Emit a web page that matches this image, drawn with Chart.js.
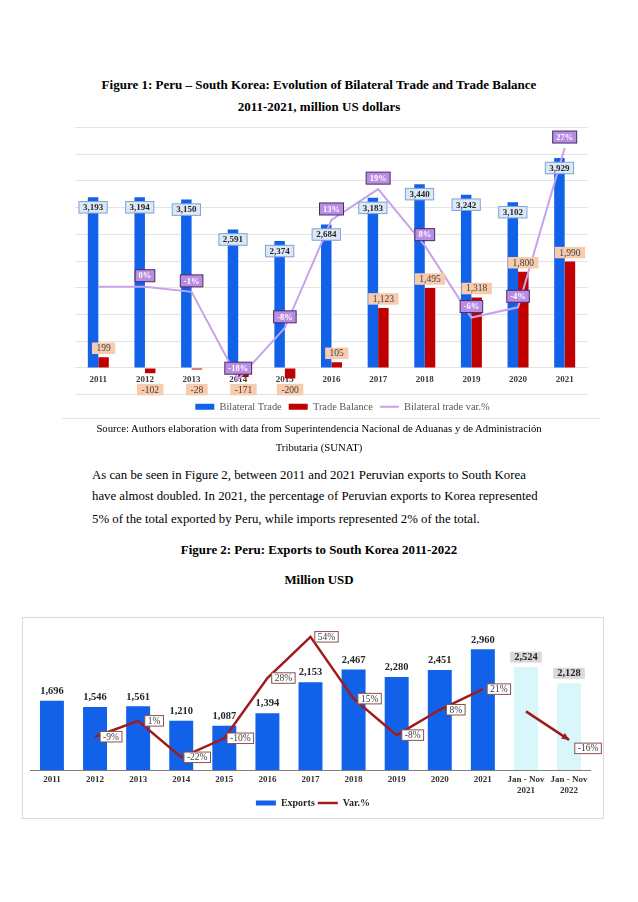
<!DOCTYPE html>
<html>
<head>
<meta charset="utf-8">
<script src="https://cdn.jsdelivr.net/npm/chart.js@4.4.1/dist/chart.umd.min.js"></script>
<style>
  body { margin: 0; background: #fff; }
  #page { position: relative; width: 638px; height: 902px; overflow: hidden;
          font-family: 'Liberation Serif', 'Times New Roman', serif; color: #000; }
  .t { position: absolute; left: 0; width: 638px; text-align: center; white-space: nowrap; line-height: 1; }
  .b { font-weight: bold; }
  .p { position: absolute; left: 92px; white-space: nowrap; line-height: 1; font-size: 12.8px; }
  #c1 { position: absolute; left: 60px; top: 116px; }
  #rule1 { position: absolute; left: 62px; top: 418px; width: 538px; height: 1px; background: #e3e3e3; }
  #box2 { position: absolute; left: 22px; top: 617px; width: 580px; height: 200px; border: 1px solid #dadada; }
  #box2 canvas { display: block; }
</style>
</head>
<body>
<div id="page">
  <div class="t b" style="top:77.5px;font-size:13px">Figure 1: Peru – South Korea: Evolution of Bilateral Trade and Trade Balance</div>
  <div class="t b" style="top:99.5px;font-size:13px">2011-2021, million US dollars</div>

  <canvas id="c1" width="565" height="306"></canvas>
  <div id="rule1"></div>

  <div class="t" style="top:423px;font-size:10.7px">Source: Authors elaboration with data from Superintendencia Nacional de Aduanas y de Administración</div>
  <div class="t" style="top:441.5px;font-size:10.7px">Tributaria (SUNAT)</div>

  <div class="p" style="top:468.5px">As can be seen in Figure 2, between 2011 and 2021 Peruvian exports to South Korea</div>
  <div class="p" style="top:490.3px">have almost doubled. In 2021, the percentage of Peruvian exports to Korea represented</div>
  <div class="p" style="top:512.6px">5% of the total exported by Peru, while imports represented 2% of the total.</div>

  <div class="t b" style="top:543.6px;font-size:12.9px">Figure 2: Peru: Exports to South Korea 2011-2022</div>
  <div class="t b" style="top:574.2px;font-size:12.9px">Million USD</div>

  <div id="box2"><canvas id="c2" width="580" height="200"></canvas></div>
</div>

<script>
// Figure 1 data
const years1 = ['2011', '2012', '2013', '2014', '2015', '2016', '2017', '2018', '2019', '2020', '2021'];
const bilateralTrade = [3193, 3194, 3150, 2591, 2374, 2684, 3183, 3440, 3242, 3102, 3929];
const tradeBalance = [199, -102, -28, -171, -200, 105, 1123, 1495, 1318, 1800, 1990];
const tradeVar = [0, 0, -1, -18, -8, 13, 19, 8, -6, -4, 27];

// Figure 2 data
const years2 = ['2011', '2012', '2013', '2014', '2015', '2016', '2017', '2018', '2019', '2020', '2021',
  ['Jan - Nov', '2021'], ['Jan - Nov', '2022']];
const exportsUsd = [1696, 1546, 1561, 1210, 1087, 1394, 2153, 2467, 2280, 2451, 2960, 2524, 2128];
const exportsVar = [null, -9, 1, -22, -10, 28, 54, 15, -8, 8, 21, null, null];
const janNovArrow = [null, null, null, null, null, null, null, null, null, null, null, 7, -11];
const janNovVar = -16;

const SERIF = "'Liberation Serif', 'Times New Roman', serif";
const BLUE = '#1162e8';
const fmt = v => v.toLocaleString('en-US');

// boxed value labels, drawn from each element's position
const boxLabels = {
  id: 'boxLabels',
  afterDatasetsDraw(chart) {
    const { ctx, chartArea } = chart;
    chart.data.datasets.forEach((ds, i) => {
      const lab = ds.valueLabels;
      if (!lab) return;
      chart.getDatasetMeta(i).data.forEach((el, j) => {
        const text = lab.text[j];
        if (text == null) return;
        const x = el.x + (lab.dx || 0);
        const y = (lab.negBottom != null && ds.data[j] < 0)
          ? chartArea.bottom - lab.negBottom
          : el.y + (lab.dy || 0);
        ctx.save();
        ctx.font = lab.font;
        const w = ctx.measureText(text).width + 2 * lab.padX;
        const h = lab.h;
        const fill = Array.isArray(lab.fill) ? lab.fill[j] : lab.fill;
        if (fill) {
          ctx.fillStyle = fill;
          ctx.fillRect(x - w / 2, y - h / 2, w, h);
        }
        if (lab.border) {
          ctx.strokeStyle = lab.border;
          ctx.lineWidth = 1;
          ctx.strokeRect(x - w / 2, y - h / 2, w, h);
        }
        ctx.fillStyle = lab.color;
        ctx.textAlign = 'center';
        ctx.textBaseline = 'middle';
        ctx.fillText(text, x, y + 0.5);
        ctx.restore();
      });
    });
  }
};

// arrow head at the end of a line dataset
const arrowHead = {
  id: 'arrowHead',
  afterDatasetsDraw(chart) {
    const ctx = chart.ctx;
    chart.data.datasets.forEach((ds, i) => {
      if (!ds.arrowHead) return;
      const pts = chart.getDatasetMeta(i).data.filter((p, j) => ds.data[j] != null);
      const a = pts[pts.length - 2], b = pts[pts.length - 1];
      const ang = Math.atan2(b.y - a.y, b.x - a.x);
      const s = 8;
      ctx.save();
      ctx.fillStyle = ds.borderColor;
      ctx.beginPath();
      ctx.moveTo(b.x, b.y);
      ctx.lineTo(b.x - s * Math.cos(ang - 0.45), b.y - s * Math.sin(ang - 0.45));
      ctx.lineTo(b.x - s * Math.cos(ang + 0.45), b.y - s * Math.sin(ang + 0.45));
      ctx.closePath();
      ctx.fill();
      ctx.restore();
    });
  }
};

new Chart(document.getElementById('c1'), {
  data: {
    labels: years1,
    datasets: [
      {
        type: 'bar', label: 'Bilateral Trade', data: bilateralTrade,
        backgroundColor: BLUE, order: 1, pointStyle: 'rect',
        valueLabels: { text: bilateralTrade.map(fmt), dy: 10, h: 11.5, padX: 4,
          font: 'bold 9px ' + SERIF, color: '#262626', fill: '#dde8f6', border: '#7ea3d4' }
      },
      {
        type: 'bar', label: 'Trade Balance', data: tradeBalance,
        backgroundColor: '#c00000', order: 2, pointStyle: 'rect',
        valueLabels: { text: tradeBalance.map(fmt), dy: -9, negBottom: 5, h: 11.5, padX: 4.5,
          font: '9.5px ' + SERIF, color: '#404040', fill: '#f8cbad' }
      },
      {
        type: 'line', label: 'Bilateral trade var.%', data: tradeVar, yAxisID: 'y1',
        borderColor: '#c7a3eb', borderWidth: 2, pointRadius: 0, tension: 0, order: 0, pointStyle: 'line',
        valueLabels: { text: tradeVar.map((v, i) => i === 0 ? null : v + '%'), dy: -11, h: 12, padX: 3.5,
          font: 'bold 8.5px ' + SERIF, color: '#ffffff', fill: '#b88de3', border: '#4a2a63' }
      }
    ]
  },
  options: {
    responsive: false,
    animation: false,
    layout: { padding: { top: 11.5, bottom: 0 } },
    datasets: { bar: { categoryPercentage: 0.45, barPercentage: 1 } },
    scales: {
      x: {
        position: { y: 0 },
        grid: { display: false, drawTicks: false },
        border: { display: false },
        ticks: { font: { family: SERIF, size: 9, weight: 'bold' }, color: '#3a3a3a', padding: 6,
          maxRotation: 0, autoSkip: false }
      },
      y: {
        position: 'left', min: -500, max: 4500,
        ticks: { display: false, stepSize: 500 },
        grid: { color: '#e4e4e4', drawTicks: false },
        border: { display: false },
        afterFit(s) { s.width = 15; }
      },
      y1: {
        position: 'right', min: -21, max: 31,
        ticks: { display: false },
        grid: { display: false, drawTicks: false },
        border: { display: false },
        afterFit(s) { s.width = 37; }
      }
    },
    plugins: {
      legend: {
        position: 'bottom',
        labels: {
          usePointStyle: true, pointStyleWidth: 19, boxHeight: 6, padding: 7,
          font: { family: SERIF, size: 10.4 }, color: '#595959',
          sort: (a, b) => a.datasetIndex - b.datasetIndex
        }
      },
      tooltip: { enabled: false }
    }
  },
  plugins: [boxLabels]
});

new Chart(document.getElementById('c2'), {
  data: {
    labels: years2,
    datasets: [
      {
        type: 'bar', label: 'Exports', data: exportsUsd,
        backgroundColor: exportsUsd.map((v, i) => i < 11 ? BLUE : '#d9f6fa'),
        barPercentage: 0.556, categoryPercentage: 1, order: 1, pointStyle: 'rect',
        valueLabels: { text: exportsUsd.map(fmt), dy: -10, h: 11, padX: 4,
          font: 'bold 10.5px ' + SERIF, color: '#262626',
          fill: exportsUsd.map((v, i) => i < 11 ? null : '#d9d9d9') }
      },
      {
        type: 'line', label: 'Var.%', data: exportsVar, yAxisID: 'y1',
        borderColor: '#a01c1c', borderWidth: 2.5, pointRadius: 0, tension: 0, order: 0, pointStyle: 'line',
        valueLabels: { text: exportsVar.map(v => v == null ? null : v + '%'), dx: 16, h: 10.5, padX: 3,
          font: '9.5px ' + SERIF, color: '#404040', fill: '#ffffff', border: '#8c5050' }
      },
      {
        type: 'line', label: 'arrow', data: janNovArrow, yAxisID: 'y1',
        borderColor: '#a01c1c', borderWidth: 2.5, pointRadius: 0, tension: 0, order: 0,
        arrowHead: true,
        valueLabels: { text: janNovArrow.map((v, i) => i === janNovArrow.length - 1 ? janNovVar + '%' : null),
          dx: 19, dy: 8.5, h: 10.5, padX: 3,
          font: '9.5px ' + SERIF, color: '#404040', fill: '#ffffff', border: '#8c5050' }
      }
    ]
  },
  options: {
    responsive: false,
    animation: false,
    layout: { padding: { top: 9.3, bottom: 0 } },
    scales: {
      x: {
        grid: { display: false, drawTicks: false },
        border: { color: '#7f7f7f' },
        ticks: { font: { family: SERIF, size: 9, weight: 'bold' }, color: '#333333', padding: 4.6,
          maxRotation: 0, autoSkip: false },
        afterFit(s) { s.height = 25; }
      },
      y: {
        position: 'left', min: 0, max: 3500,
        ticks: { display: false },
        grid: { display: false, drawTicks: false },
        border: { display: false },
        afterFit(s) { s.width = 7.4; }
      },
      y1: {
        position: 'right', min: -30, max: 60,
        ticks: { display: false },
        grid: { display: false, drawTicks: false },
        border: { display: false },
        afterFit(s) { s.width = 12.4; }
      }
    },
    plugins: {
      legend: {
        position: 'bottom',
        labels: {
          usePointStyle: true, pointStyleWidth: 20, boxHeight: 5, padding: 3,
          font: { family: SERIF, size: 10, weight: 'bold' }, color: '#262626',
          sort: (a, b) => a.datasetIndex - b.datasetIndex,
          filter: item => item.datasetIndex < 2
        }
      },
      tooltip: { enabled: false }
    }
  },
  plugins: [arrowHead, boxLabels]
});
</script>
</body>
</html>
